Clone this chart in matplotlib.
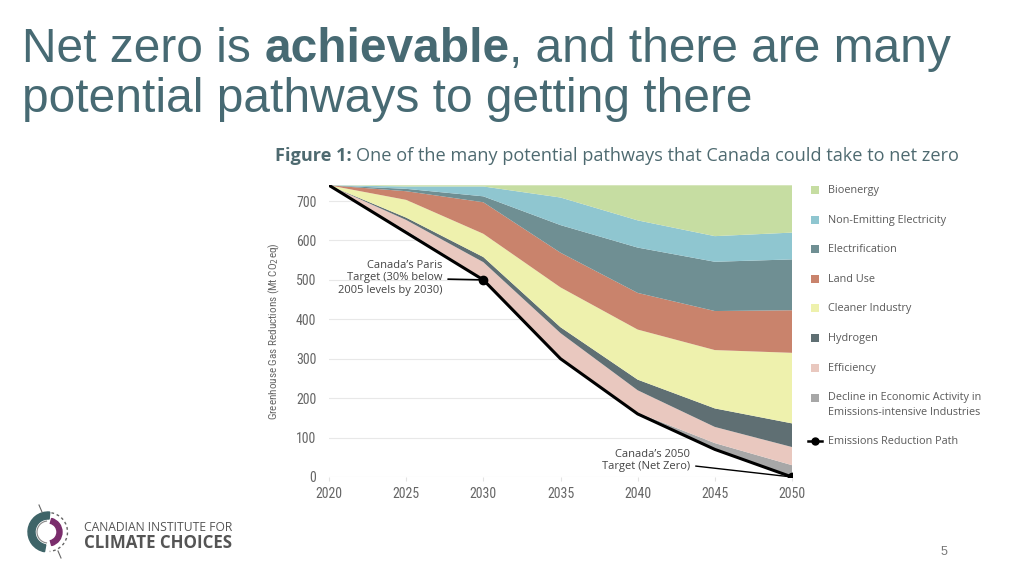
import numpy as np
import matplotlib
matplotlib.use("Agg")
import matplotlib.pyplot as plt
from matplotlib.patches import Rectangle, Wedge, Arc
from matplotlib.lines import Line2D

# --- Data (Mt CO2eq) ---
years = [2020, 2025, 2030, 2035, 2040, 2045, 2050]
path = [740, 620, 500, 300, 160, 70, 0]          # emissions reduction path
decline = [0, 5, 3, 2, 3, 16, 30]
efficiency = [0, 27, 42, 63, 57, 41, 46]
hydrogen = [0, 6, 13, 15, 27, 47, 60]
cleaner_industry = [0, 45, 59, 101, 127, 148, 179]
land_use = [0, 22, 80, 88, 93, 99, 108]
electrification = [0, 6, 15, 70, 115, 125, 129]
non_emitting = [0, 6, 25, 70, 69, 65, 68]
bioenergy = [0, 3, 3, 31, 89, 129, 120]

layers = [decline, efficiency, hydrogen, cleaner_industry, land_use,
          electrification, non_emitting, bioenergy]
layer_colors = ["#a7a7a7", "#e9c8bf", "#5f6f73", "#eef1ad", "#c9836c",
                "#6f8f93", "#8fc6d0", "#c6dda2"]
legend_labels = ["Bioenergy", "Non-Emitting Electricity", "Electrification",
                 "Land Use", "Cleaner Industry", "Hydrogen", "Efficiency",
                 "Decline in Economic Activity in\nEmissions-intensive Industries",
                 "Emissions Reduction Path"]
yticks = [0, 100, 200, 300, 400, 500, 600, 700]

W, H = 1024, 576
fig = plt.figure(figsize=(W / 100, H / 100), dpi=100)
fig.patch.set_facecolor("white")


def px(x, y):
    return x / W, 1 - y / H


title_col = "#476a73"
grey = "#5a5a5a"
narrow = ["Roboto Condensed", "DejaVu Sans"]
body = ["Open Sans", "DejaVu Sans"]

# --- Slide title, with bold word placed inline ---
renderer = fig.canvas.get_renderer()


def run_text(x, y, parts, size, family, color):
    for s, w in parts:
        t = fig.text(x, y, s, fontsize=size, family=family, color=color,
                     weight=w, va="baseline", ha="left",
                     transform=None)
        bb = t.get_window_extent(renderer=renderer)
        x = bb.x1


run_text(22, H - 62, [("Net zero is ", "normal"), ("achievable", "bold"),
                      (", and there are many", "normal")],
         34.5, "Liberation Sans", title_col)
run_text(22, H - 112, [("potential pathways to getting there", "normal")],
         34.5, "Liberation Sans", title_col)

# --- Figure caption ---
run_text(275, H - 161, [("Figure 1: ", "bold"),
                        ("One of the many potential pathways that Canada could take to net zero", "normal")],
         13.1, body, "#4e6a70")

# --- Chart ---
l, b = px(329, 477)
ax = fig.add_axes([l, b, (792 - 329) / W, (477 - 184.5) / H])
ax.stackplot(years, path, *layers, colors=["none"] + layer_colors,
             linewidth=0)
ax.plot(years, path, color="black", lw=2.2, zorder=5)
ax.plot([2030, 2050], [path[2], path[6]], "o", color="black", ms=6, zorder=6)

ax.set_xlim(2020, 2050)
ax.set_ylim(0, 742)
ax.set_yticks(yticks)
ax.set_xticks(years)
for s in ax.spines.values():
    s.set_visible(False)
ax.grid(axis="y", color="#e8e8e8", lw=0.8)
ax.set_axisbelow(True)
ax.tick_params(axis="y", length=0, pad=9, labelsize=10, labelcolor="#666666")
ax.tick_params(axis="x", length=3, color="#e3e3e3", pad=4, labelsize=10,
               labelcolor="#666666")
for lab in ax.get_xticklabels() + ax.get_yticklabels():
    lab.set_family(narrow)
ax.set_ylabel("Greenhouse Gas Reductions (Mt CO$_2$eq)", family=narrow,
              fontsize=8, color="#666666", labelpad=10)

ax.annotate("Canada’s Paris\nTarget (30% below\n2005 levels by 2030)",
            xy=(2030, 500), xytext=(2027.35, 505), textcoords="data",
            ha="right", va="center", fontsize=8, family=body, color="#444444",
            linespacing=1.15,
            arrowprops=dict(arrowstyle="-", color="black", lw=1.2,
                            shrinkA=2, shrinkB=0))
ax.annotate("Canada’s 2050\nTarget (Net Zero)",
            xy=(2050, 0), xytext=(2043.4, 42), textcoords="data",
            ha="right", va="center", fontsize=8, family=body, color="#444444",
            linespacing=1.15,
            arrowprops=dict(arrowstyle="-", color="black", lw=1.0,
                            shrinkA=2, shrinkB=0))

# --- Legend (manual) ---
row_y = [190, 220, 249, 279, 308, 338, 368, 398, 441]
leg_colors = layer_colors[::-1]
for i, (lab, yy) in enumerate(zip(legend_labels, row_y)):
    if i < len(leg_colors):
        fig.patches.append(Rectangle(px(811, yy + 4), 8 / W, 8 / H,
                                     transform=fig.transFigure,
                                     color=leg_colors[i], lw=0))
    else:
        fig.lines.append(Line2D([808 / W, 822 / W], [1 - yy / H] * 2,
                                transform=fig.transFigure, color="black",
                                lw=1.8))
        fig.lines.append(Line2D([815 / W], [1 - yy / H], marker="o", ms=5,
                                transform=fig.transFigure, color="black"))
    va = "top" if "\n" in lab else "center"
    ty = yy - 6 if "\n" in lab else yy
    fig.text(*px(828, ty), lab, fontsize=7.8, family=body, color=grey,
             va=va, ha="left", linespacing=1.45)

# --- Logo ---
lax = fig.add_axes([0, 0, 1, 1], zorder=-1)
lax.set_xlim(0, W)
lax.set_ylim(H, 0)
lax.axis("off")
cx, cy = 48, 532
lax.add_patch(Wedge((cx, cy), 20, 100, 275, width=7, color="#3e6468"))
lax.add_patch(Wedge((cx, cy), 14, -75, 75, width=5, color="#7a2d6c"))
lax.add_patch(Arc((cx, cy), 39, 39, theta1=-80, theta2=85, color="#666666",
                  lw=1, ls=(0, (2, 2))))
lax.add_patch(Arc((cx, cy), 22, 22, theta1=95, theta2=265, color="#888888",
                  lw=0.8))
lax.plot([39, 42], [505, 512], color="#666666", lw=0.8)
lax.plot([58, 61], [551, 558], color="#666666", lw=0.8)
fig.text(*px(84, 531), "CANADIAN INSTITUTE FOR", fontsize=8.7, family=body,
         color="#555555", va="baseline")
fig.text(*px(84, 548), "CLIMATE CHOICES", fontsize=12.2, family=body,
         weight="bold", color="#555555", va="baseline")

# page number
fig.text(*px(944, 555), "5", fontsize=9, family="Liberation Sans",
         color="#777777", ha="center", va="baseline")

fig.savefig("out.png", dpi=100)
